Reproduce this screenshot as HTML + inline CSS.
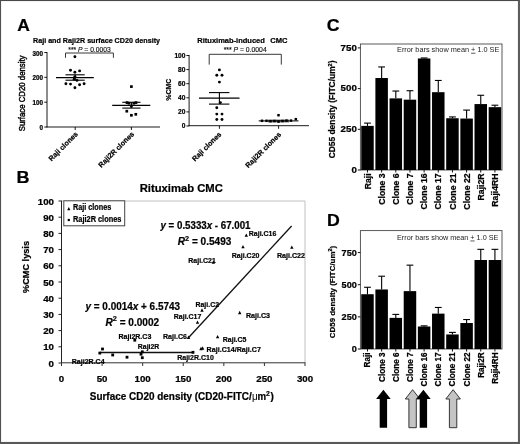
<!DOCTYPE html>
<html><head><meta charset="utf-8"><title>Figure</title>
<style>
html,body{margin:0;padding:0;background:#fff;}
#fig{position:relative;width:520px;height:444px;overflow:hidden;background:#fff;}
#fig svg{position:absolute;left:0;top:0;display:block;}
#frame{position:absolute;left:0;top:0;width:520px;height:444px;box-sizing:border-box;border-style:solid;border-color:#484848 #5c5c5c #585858 #505050;border-width:1px 2px 2px 1px;box-shadow:inset 0 0 1px rgba(60,60,60,0.55);pointer-events:none;}
text{font-family:"Liberation Sans",sans-serif;}
text[font-weight="700"]{stroke:#000;stroke-width:0.22px;}
</style></head><body>
<div id="fig">
<svg width="520" height="444" viewBox="0 0 520 444" font-family="Liberation Sans, sans-serif">
<text x="17.30" y="30.80" font-size="16.2" font-weight="700" textLength="12.60" lengthAdjust="spacingAndGlyphs">A</text>
<text x="16.60" y="182.60" font-size="16.8" font-weight="700" textLength="13.00" lengthAdjust="spacingAndGlyphs">B</text>
<text x="326.80" y="31.00" font-size="16" font-weight="700" textLength="12.80" lengthAdjust="spacingAndGlyphs">C</text>
<text x="327.00" y="225.80" font-size="16.6" font-weight="700" textLength="12.80" lengthAdjust="spacingAndGlyphs">D</text>
<text x="33.00" y="43.30" font-size="7.5" font-weight="700" textLength="127.00" lengthAdjust="spacingAndGlyphs">Raji and Raji2R surface CD20 density</text>
<text x="68.30" y="51.50" font-size="7.1" textLength="42.40" lengthAdjust="spacingAndGlyphs" fill="#111" stroke="#111" stroke-width="0.15">*** <tspan font-style="italic">P</tspan> = 0.0003</text>
<line x1="47.00" y1="52.00" x2="47.00" y2="127.40" stroke="#000" stroke-width="0.9"/>
<line x1="46.60" y1="127.00" x2="160.00" y2="127.00" stroke="#000" stroke-width="0.9"/>
<line x1="44.30" y1="52.50" x2="47.00" y2="52.50" stroke="#000" stroke-width="0.9"/>
<text x="43.00" y="55.50" font-size="6.3" font-weight="700" text-anchor="end">300</text>
<line x1="44.30" y1="77.30" x2="47.00" y2="77.30" stroke="#000" stroke-width="0.9"/>
<text x="43.00" y="80.30" font-size="6.3" font-weight="700" text-anchor="end">200</text>
<line x1="44.30" y1="102.20" x2="47.00" y2="102.20" stroke="#000" stroke-width="0.9"/>
<text x="43.00" y="105.20" font-size="6.3" font-weight="700" text-anchor="end">100</text>
<line x1="44.30" y1="127.00" x2="47.00" y2="127.00" stroke="#000" stroke-width="0.9"/>
<text x="43.00" y="130.00" font-size="6.3" font-weight="700" text-anchor="end">0</text>
<line x1="75.20" y1="127.00" x2="75.20" y2="130.00" stroke="#000" stroke-width="0.9"/>
<line x1="131.40" y1="127.00" x2="131.40" y2="130.00" stroke="#000" stroke-width="0.9"/>
<text x="25.00" y="93.40" font-size="8.2" text-anchor="middle" textLength="75.80" lengthAdjust="spacingAndGlyphs" transform="rotate(-90 25.00 93.40)" stroke="#000" stroke-width="0.4">Surface CD20 density</text>
<text x="78.40" y="134.60" font-size="7.2" font-weight="700" text-anchor="end" transform="rotate(-45 78.40 134.60)">Raji clones</text>
<text x="134.60" y="134.60" font-size="7.2" font-weight="700" text-anchor="end" transform="rotate(-45 134.60 134.60)">Raji2R clones</text>
<polyline points="65.5,57.8 65.5,53 113.4,53 113.4,57.8" fill="none" stroke="#222" stroke-width="0.9"/>
<circle cx="74.90" cy="56.80" r="1.45" fill="#000"/>
<circle cx="70.50" cy="70.20" r="1.45" fill="#000"/>
<circle cx="74.90" cy="72.30" r="1.45" fill="#000"/>
<circle cx="79.60" cy="70.90" r="1.45" fill="#000"/>
<circle cx="74.90" cy="76.60" r="1.45" fill="#000"/>
<circle cx="74.20" cy="79.30" r="1.45" fill="#000"/>
<circle cx="77.00" cy="80.40" r="1.45" fill="#000"/>
<circle cx="65.90" cy="83.70" r="1.45" fill="#000"/>
<circle cx="70.50" cy="84.10" r="1.45" fill="#000"/>
<circle cx="79.60" cy="84.80" r="1.45" fill="#000"/>
<circle cx="84.10" cy="83.70" r="1.45" fill="#000"/>
<circle cx="74.90" cy="87.70" r="1.45" fill="#000"/>
<line x1="56.00" y1="77.60" x2="93.80" y2="77.60" stroke="#000" stroke-width="1.1"/>
<line x1="65.50" y1="74.80" x2="84.70" y2="74.80" stroke="#000" stroke-width="1.1"/>
<line x1="65.50" y1="80.20" x2="84.70" y2="80.20" stroke="#000" stroke-width="1.1"/>
<line x1="75.10" y1="74.80" x2="75.10" y2="80.20" stroke="#000" stroke-width="1.1"/>
<rect x="130.05" y="85.25" width="2.7" height="2.7" fill="#000"/>
<rect x="127.65" y="101.85" width="2.7" height="2.7" fill="#000"/>
<rect x="132.45" y="101.85" width="2.7" height="2.7" fill="#000"/>
<rect x="130.05" y="104.85" width="2.7" height="2.7" fill="#000"/>
<rect x="125.45" y="109.85" width="2.7" height="2.7" fill="#000"/>
<rect x="130.05" y="113.95" width="2.7" height="2.7" fill="#000"/>
<rect x="134.45" y="112.95" width="2.7" height="2.7" fill="#000"/>
<rect x="125.65" y="101.25" width="2.7" height="2.7" fill="#000"/>
<rect x="134.65" y="101.25" width="2.7" height="2.7" fill="#000"/>
<line x1="112.20" y1="105.40" x2="150.30" y2="105.40" stroke="#000" stroke-width="1.1"/>
<line x1="122.30" y1="102.30" x2="140.50" y2="102.30" stroke="#000" stroke-width="1.1"/>
<line x1="122.30" y1="108.10" x2="140.50" y2="108.10" stroke="#000" stroke-width="1.1"/>
<line x1="131.40" y1="102.30" x2="131.40" y2="108.10" stroke="#000" stroke-width="1.1"/>
<text x="197.30" y="43.20" font-size="7.5" font-weight="700" textLength="67.60" lengthAdjust="spacingAndGlyphs">Rituximab-induced</text>
<text x="270.20" y="43.20" font-size="7.5" font-weight="700" textLength="17.20" lengthAdjust="spacingAndGlyphs">CMC</text>
<text x="223.70" y="51.60" font-size="7.1" textLength="43.00" lengthAdjust="spacingAndGlyphs" fill="#111" stroke="#111" stroke-width="0.15">*** <tspan font-style="italic">P</tspan> = 0.0004</text>
<line x1="189.10" y1="55.00" x2="189.10" y2="126.10" stroke="#000" stroke-width="0.9"/>
<line x1="188.60" y1="125.70" x2="309.00" y2="125.70" stroke="#000" stroke-width="0.9"/>
<line x1="186.40" y1="126.00" x2="189.10" y2="126.00" stroke="#000" stroke-width="0.9"/>
<text x="185.40" y="128.40" font-size="6.6" font-weight="700" text-anchor="end">0</text>
<line x1="186.40" y1="111.90" x2="189.10" y2="111.90" stroke="#000" stroke-width="0.9"/>
<text x="185.40" y="114.30" font-size="6.6" font-weight="700" text-anchor="end">20</text>
<line x1="186.40" y1="97.80" x2="189.10" y2="97.80" stroke="#000" stroke-width="0.9"/>
<text x="185.40" y="100.20" font-size="6.6" font-weight="700" text-anchor="end">40</text>
<line x1="186.40" y1="83.70" x2="189.10" y2="83.70" stroke="#000" stroke-width="0.9"/>
<text x="185.40" y="86.10" font-size="6.6" font-weight="700" text-anchor="end">60</text>
<line x1="186.40" y1="69.60" x2="189.10" y2="69.60" stroke="#000" stroke-width="0.9"/>
<text x="185.40" y="72.00" font-size="6.6" font-weight="700" text-anchor="end">80</text>
<line x1="186.40" y1="55.50" x2="189.10" y2="55.50" stroke="#000" stroke-width="0.9"/>
<text x="185.40" y="57.90" font-size="6.6" font-weight="700" text-anchor="end">100</text>
<line x1="219.40" y1="125.70" x2="219.40" y2="128.80" stroke="#000" stroke-width="0.9"/>
<line x1="278.60" y1="125.70" x2="278.60" y2="128.80" stroke="#000" stroke-width="0.9"/>
<text x="171.00" y="89.70" font-size="7" font-weight="700" text-anchor="middle" textLength="22.00" lengthAdjust="spacingAndGlyphs" transform="rotate(-90 171.00 89.70)">%CMC</text>
<text x="221.80" y="134.80" font-size="7.2" font-weight="700" text-anchor="end" transform="rotate(-45 221.80 134.80)">Raji clones</text>
<text x="281.60" y="135.00" font-size="7.2" font-weight="700" text-anchor="end" transform="rotate(-45 281.60 135.00)">Raji2R clones</text>
<polyline points="209.2,64.6 209.2,54.3 281.3,54.3 281.3,64.6" fill="none" stroke="#222" stroke-width="0.9"/>
<circle cx="219.40" cy="69.90" r="1.45" fill="#000"/>
<circle cx="216.80" cy="75.30" r="1.45" fill="#000"/>
<circle cx="222.00" cy="75.30" r="1.45" fill="#000"/>
<circle cx="219.40" cy="82.10" r="1.45" fill="#000"/>
<circle cx="220.40" cy="102.60" r="1.45" fill="#000"/>
<circle cx="216.80" cy="107.70" r="1.45" fill="#000"/>
<circle cx="216.80" cy="114.10" r="1.45" fill="#000"/>
<circle cx="222.00" cy="114.10" r="1.45" fill="#000"/>
<circle cx="216.80" cy="119.50" r="1.45" fill="#000"/>
<circle cx="222.00" cy="119.50" r="1.45" fill="#000"/>
<line x1="199.00" y1="98.10" x2="239.50" y2="98.10" stroke="#000" stroke-width="1.1"/>
<line x1="209.00" y1="92.60" x2="229.40" y2="92.60" stroke="#000" stroke-width="1.1"/>
<line x1="209.00" y1="104.10" x2="229.40" y2="104.10" stroke="#000" stroke-width="1.1"/>
<line x1="219.40" y1="92.60" x2="219.40" y2="104.10" stroke="#000" stroke-width="1.1"/>
<rect x="277.25" y="113.95" width="2.5" height="2.5" fill="#000"/>
<rect x="260.75" y="119.55" width="2.5" height="2.5" fill="#000"/>
<rect x="265.25" y="119.55" width="2.5" height="2.5" fill="#000"/>
<rect x="269.25" y="119.95" width="2.5" height="2.5" fill="#000"/>
<rect x="273.25" y="119.75" width="2.5" height="2.5" fill="#000"/>
<rect x="277.25" y="120.35" width="2.5" height="2.5" fill="#000"/>
<rect x="281.25" y="119.75" width="2.5" height="2.5" fill="#000"/>
<rect x="285.25" y="119.35" width="2.5" height="2.5" fill="#000"/>
<rect x="289.75" y="119.35" width="2.5" height="2.5" fill="#000"/>
<rect x="294.55" y="117.95" width="2.5" height="2.5" fill="#000"/>
<line x1="258.70" y1="120.90" x2="298.50" y2="120.90" stroke="#000" stroke-width="1.0"/>
<line x1="268.00" y1="120.20" x2="289.00" y2="120.20" stroke="#000" stroke-width="0.8"/>
<line x1="268.00" y1="121.80" x2="289.00" y2="121.80" stroke="#000" stroke-width="0.8"/>
<text x="139.70" y="192.30" font-size="11.2" font-weight="700" textLength="83.20" lengthAdjust="spacingAndGlyphs">Rituximab CMC</text>
<line x1="61.50" y1="201.00" x2="305.00" y2="201.00" stroke="#c0c0c0" stroke-width="1"/>
<line x1="305.00" y1="201.00" x2="305.00" y2="363.00" stroke="#c0c0c0" stroke-width="1"/>
<line x1="61.50" y1="200.60" x2="61.50" y2="363.40" stroke="#222" stroke-width="1"/>
<line x1="61.00" y1="362.80" x2="305.40" y2="362.80" stroke="#333" stroke-width="1"/>
<line x1="58.50" y1="363.00" x2="61.50" y2="363.00" stroke="#222" stroke-width="1"/>
<text x="54.00" y="366.50" font-size="8.6" font-weight="700" text-anchor="end" textLength="5.40" lengthAdjust="spacingAndGlyphs">0</text>
<line x1="58.50" y1="346.80" x2="61.50" y2="346.80" stroke="#222" stroke-width="1"/>
<text x="54.00" y="350.30" font-size="8.6" font-weight="700" text-anchor="end" textLength="10.80" lengthAdjust="spacingAndGlyphs">10</text>
<line x1="58.50" y1="330.60" x2="61.50" y2="330.60" stroke="#222" stroke-width="1"/>
<text x="54.00" y="334.10" font-size="8.6" font-weight="700" text-anchor="end" textLength="10.80" lengthAdjust="spacingAndGlyphs">20</text>
<line x1="58.50" y1="314.40" x2="61.50" y2="314.40" stroke="#222" stroke-width="1"/>
<text x="54.00" y="317.90" font-size="8.6" font-weight="700" text-anchor="end" textLength="10.80" lengthAdjust="spacingAndGlyphs">30</text>
<line x1="58.50" y1="298.20" x2="61.50" y2="298.20" stroke="#222" stroke-width="1"/>
<text x="54.00" y="301.70" font-size="8.6" font-weight="700" text-anchor="end" textLength="10.80" lengthAdjust="spacingAndGlyphs">40</text>
<line x1="58.50" y1="282.00" x2="61.50" y2="282.00" stroke="#222" stroke-width="1"/>
<text x="54.00" y="285.50" font-size="8.6" font-weight="700" text-anchor="end" textLength="10.80" lengthAdjust="spacingAndGlyphs">50</text>
<line x1="58.50" y1="265.80" x2="61.50" y2="265.80" stroke="#222" stroke-width="1"/>
<text x="54.00" y="269.30" font-size="8.6" font-weight="700" text-anchor="end" textLength="10.80" lengthAdjust="spacingAndGlyphs">60</text>
<line x1="58.50" y1="249.60" x2="61.50" y2="249.60" stroke="#222" stroke-width="1"/>
<text x="54.00" y="253.10" font-size="8.6" font-weight="700" text-anchor="end" textLength="10.80" lengthAdjust="spacingAndGlyphs">70</text>
<line x1="58.50" y1="233.40" x2="61.50" y2="233.40" stroke="#222" stroke-width="1"/>
<text x="54.00" y="236.90" font-size="8.6" font-weight="700" text-anchor="end" textLength="10.80" lengthAdjust="spacingAndGlyphs">80</text>
<line x1="58.50" y1="217.20" x2="61.50" y2="217.20" stroke="#222" stroke-width="1"/>
<text x="54.00" y="220.70" font-size="8.6" font-weight="700" text-anchor="end" textLength="10.80" lengthAdjust="spacingAndGlyphs">90</text>
<line x1="58.50" y1="201.00" x2="61.50" y2="201.00" stroke="#222" stroke-width="1"/>
<text x="54.00" y="204.50" font-size="8.6" font-weight="700" text-anchor="end" textLength="16.20" lengthAdjust="spacingAndGlyphs">100</text>
<line x1="61.50" y1="362.80" x2="61.50" y2="366.00" stroke="#333" stroke-width="1"/>
<text x="61.50" y="382.30" font-size="8.6" font-weight="700" text-anchor="middle" textLength="5.40" lengthAdjust="spacingAndGlyphs">0</text>
<line x1="102.09" y1="362.80" x2="102.09" y2="366.00" stroke="#333" stroke-width="1"/>
<text x="102.09" y="382.30" font-size="8.6" font-weight="700" text-anchor="middle" textLength="10.80" lengthAdjust="spacingAndGlyphs">50</text>
<line x1="142.67" y1="362.80" x2="142.67" y2="366.00" stroke="#333" stroke-width="1"/>
<text x="142.67" y="382.30" font-size="8.6" font-weight="700" text-anchor="middle" textLength="16.20" lengthAdjust="spacingAndGlyphs">100</text>
<line x1="183.25" y1="362.80" x2="183.25" y2="366.00" stroke="#333" stroke-width="1"/>
<text x="183.25" y="382.30" font-size="8.6" font-weight="700" text-anchor="middle" textLength="16.20" lengthAdjust="spacingAndGlyphs">150</text>
<line x1="223.84" y1="362.80" x2="223.84" y2="366.00" stroke="#333" stroke-width="1"/>
<text x="223.84" y="382.30" font-size="8.6" font-weight="700" text-anchor="middle" textLength="16.20" lengthAdjust="spacingAndGlyphs">200</text>
<line x1="264.42" y1="362.80" x2="264.42" y2="366.00" stroke="#333" stroke-width="1"/>
<text x="264.42" y="382.30" font-size="8.6" font-weight="700" text-anchor="middle" textLength="16.20" lengthAdjust="spacingAndGlyphs">250</text>
<line x1="305.01" y1="362.80" x2="305.01" y2="366.00" stroke="#333" stroke-width="1"/>
<text x="305.01" y="382.30" font-size="8.6" font-weight="700" text-anchor="middle" textLength="16.20" lengthAdjust="spacingAndGlyphs">300</text>
<text x="28.80" y="267.00" font-size="9.1" font-weight="700" text-anchor="middle" textLength="52.00" lengthAdjust="spacingAndGlyphs" transform="rotate(-90 28.80 267.00)">%CMC lysis</text>
<text x="89.80" y="400.20" font-size="10" font-weight="700" textLength="161.90" lengthAdjust="spacingAndGlyphs">Surface CD20 density (CD20-FITC/</text>
<text x="251.90" y="400.20" font-size="10">μ</text>
<text x="257.40" y="400.20" font-size="10" font-weight="700" textLength="8.60" lengthAdjust="spacingAndGlyphs">m</text>
<text x="266.00" y="396.40" font-size="6.8" font-weight="700">2</text>
<text x="270.50" y="400.20" font-size="10" font-weight="700">)</text>
<rect x="63.80" y="200.80" width="60.90" height="25.00" fill="#fff" stroke="#444" stroke-width="1"/>
<polygon points="68.80,206.98 67.20,210.18 70.40,210.18" fill="#000"/>
<text x="73.00" y="210.20" font-size="8.2" font-weight="700" textLength="38.30" lengthAdjust="spacingAndGlyphs">Raji clones</text>
<rect x="67.70" y="218.90" width="2.2" height="2.2" fill="#000"/>
<text x="73.00" y="221.90" font-size="8.2" font-weight="700" textLength="48.40" lengthAdjust="spacingAndGlyphs">Raji2R clones</text>
<text x="160.50" y="229.00" font-size="10.8" font-weight="700" textLength="90.00" lengthAdjust="spacingAndGlyphs"><tspan font-style="italic">y</tspan> = 0.5333<tspan font-style="italic">x</tspan> - 67.001</text>
<text x="177.80" y="245.00" font-size="11" font-weight="700" textLength="53.60" lengthAdjust="spacingAndGlyphs"><tspan font-style="italic">R</tspan><tspan font-size="8" dy="-4.5">2</tspan><tspan dy="4.5"> = 0.5493</tspan></text>
<text x="85.50" y="309.50" font-size="11" font-weight="700" textLength="94.50" lengthAdjust="spacingAndGlyphs"><tspan font-style="italic">y</tspan> = 0.0014<tspan font-style="italic">x</tspan> + 6.5743</text>
<text x="105.50" y="325.50" font-size="11" font-weight="700" textLength="53.60" lengthAdjust="spacingAndGlyphs"><tspan font-style="italic">R</tspan><tspan font-size="8" dy="-4.5">2</tspan><tspan dy="4.5"> = 0.0002</tspan></text>
<line x1="188.20" y1="338.00" x2="291.60" y2="226.00" stroke="#111" stroke-width="1.3"/>
<line x1="99.80" y1="352.50" x2="194.00" y2="352.50" stroke="#111" stroke-width="1.3"/>
<polygon points="246.30,233.46 244.60,236.86 248.00,236.86" fill="#000"/>
<text x="248.80" y="235.70" font-size="7.6" font-weight="700" textLength="27.50" lengthAdjust="spacingAndGlyphs">Raji.C16</text>
<polygon points="243.00,244.96 241.30,248.36 244.70,248.36" fill="#000"/>
<text x="231.80" y="257.70" font-size="7.6" font-weight="700" textLength="27.70" lengthAdjust="spacingAndGlyphs">Raji.C20</text>
<polygon points="291.80,245.46 290.10,248.86 293.50,248.86" fill="#000"/>
<text x="277.00" y="257.70" font-size="7.6" font-weight="700" textLength="28.00" lengthAdjust="spacingAndGlyphs">Raji.C22</text>
<polygon points="213.30,260.46 211.60,263.86 215.00,263.86" fill="#000"/>
<text x="188.30" y="262.70" font-size="7.6" font-weight="700" textLength="27.50" lengthAdjust="spacingAndGlyphs">Raji.C21</text>
<polygon points="202.00,308.36 200.30,311.76 203.70,311.76" fill="#000"/>
<text x="195.50" y="307.20" font-size="7.6" font-weight="700" textLength="23.50" lengthAdjust="spacingAndGlyphs">Raji.C2</text>
<polygon points="197.50,320.46 195.80,323.86 199.20,323.86" fill="#000"/>
<text x="173.80" y="318.50" font-size="7.6" font-weight="700" textLength="27.50" lengthAdjust="spacingAndGlyphs">Raji.C17</text>
<polygon points="188.50,335.56 186.80,338.96 190.20,338.96" fill="#000"/>
<text x="163.00" y="339.00" font-size="7.6" font-weight="700" textLength="24.00" lengthAdjust="spacingAndGlyphs">Raji.C6</text>
<polygon points="239.70,310.76 238.00,314.16 241.40,314.16" fill="#000"/>
<text x="246.00" y="317.90" font-size="7.6" font-weight="700" textLength="24.00" lengthAdjust="spacingAndGlyphs">Raji.C3</text>
<polygon points="217.60,334.96 215.90,338.36 219.30,338.36" fill="#000"/>
<text x="222.80" y="342.30" font-size="7.6" font-weight="700" textLength="23.60" lengthAdjust="spacingAndGlyphs">Raji.C5</text>
<polygon points="201.00,346.76 199.30,350.16 202.70,350.16" fill="#000"/>
<polygon points="202.60,346.36 200.90,349.76 204.30,349.76" fill="#000"/>
<text x="206.60" y="352.40" font-size="7.6" font-weight="700" textLength="54.30" lengthAdjust="spacingAndGlyphs">Raji.C14/Raji.C7</text>
<rect x="98.40" y="351.70" width="2.8" height="2.8" fill="#000"/>
<rect x="101.10" y="347.60" width="2.8" height="2.8" fill="#000"/>
<rect x="111.30" y="353.60" width="2.8" height="2.8" fill="#000"/>
<rect x="125.60" y="355.80" width="2.8" height="2.8" fill="#000"/>
<rect x="133.40" y="338.80" width="2.8" height="2.8" fill="#000"/>
<rect x="139.60" y="352.80" width="2.8" height="2.8" fill="#000"/>
<rect x="140.90" y="350.40" width="2.8" height="2.8" fill="#000"/>
<rect x="140.90" y="356.30" width="2.8" height="2.8" fill="#000"/>
<rect x="191.60" y="350.90" width="2.8" height="2.8" fill="#000"/>
<text x="71.80" y="363.90" font-size="7.6" font-weight="700" textLength="32.80" lengthAdjust="spacingAndGlyphs">Raji2R.C4</text>
<text x="118.50" y="339.30" font-size="7.6" font-weight="700" textLength="32.80" lengthAdjust="spacingAndGlyphs">Raji2R.C3</text>
<text x="137.80" y="349.10" font-size="7.6" font-weight="700" textLength="21.50" lengthAdjust="spacingAndGlyphs">Raji2R</text>
<text x="177.20" y="360.20" font-size="7.6" font-weight="700" textLength="36.60" lengthAdjust="spacingAndGlyphs">Raji2R.C10</text>
<rect x="360.40" y="44.00" width="141.60" height="126.00" fill="none" stroke="#484848" stroke-width="0.9"/>
<line x1="357.80" y1="170.00" x2="360.40" y2="170.00" stroke="#111" stroke-width="1"/>
<text x="356.80" y="172.70" font-size="8.7" font-weight="700" text-anchor="end" textLength="5.40" lengthAdjust="spacingAndGlyphs">0</text>
<line x1="357.80" y1="129.30" x2="360.40" y2="129.30" stroke="#111" stroke-width="1"/>
<text x="356.80" y="132.00" font-size="8.7" font-weight="700" text-anchor="end" textLength="16.20" lengthAdjust="spacingAndGlyphs">250</text>
<line x1="357.80" y1="88.60" x2="360.40" y2="88.60" stroke="#111" stroke-width="1"/>
<text x="356.80" y="91.30" font-size="8.7" font-weight="700" text-anchor="end" textLength="16.20" lengthAdjust="spacingAndGlyphs">500</text>
<line x1="357.80" y1="47.90" x2="360.40" y2="47.90" stroke="#111" stroke-width="1"/>
<text x="356.80" y="50.60" font-size="8.7" font-weight="700" text-anchor="end" textLength="16.20" lengthAdjust="spacingAndGlyphs">750</text>
<text x="499.40" y="51.80" font-size="7.4" text-anchor="end" textLength="102.40" lengthAdjust="spacingAndGlyphs" fill="#222">Error bars show mean <tspan text-decoration="underline">+</tspan> 1.0 SE</text>
<rect x="361.23" y="125.88" width="12.50" height="44.12" fill="#000"/>
<line x1="367.48" y1="123.11" x2="367.48" y2="125.88" stroke="#000" stroke-width="1.1"/>
<line x1="364.08" y1="123.11" x2="370.88" y2="123.11" stroke="#000" stroke-width="1.1"/>
<line x1="367.48" y1="170.00" x2="367.48" y2="172.50" stroke="#111" stroke-width="1"/>
<text x="370.58" y="173.40" font-size="8.7" font-weight="700" text-anchor="end" transform="rotate(-90 370.58 173.40)">Raji</text>
<rect x="375.39" y="78.02" width="12.50" height="91.98" fill="#000"/>
<line x1="381.64" y1="66.95" x2="381.64" y2="78.02" stroke="#000" stroke-width="1.1"/>
<line x1="378.24" y1="66.95" x2="385.04" y2="66.95" stroke="#000" stroke-width="1.1"/>
<line x1="381.64" y1="170.00" x2="381.64" y2="172.50" stroke="#111" stroke-width="1"/>
<text x="384.74" y="173.40" font-size="8.7" font-weight="700" text-anchor="end" transform="rotate(-90 384.74 173.40)">Clone 3</text>
<rect x="389.55" y="98.37" width="12.50" height="71.63" fill="#000"/>
<line x1="395.80" y1="91.04" x2="395.80" y2="98.37" stroke="#000" stroke-width="1.1"/>
<line x1="392.40" y1="91.04" x2="399.20" y2="91.04" stroke="#000" stroke-width="1.1"/>
<line x1="395.80" y1="170.00" x2="395.80" y2="172.50" stroke="#111" stroke-width="1"/>
<text x="398.90" y="173.40" font-size="8.7" font-weight="700" text-anchor="end" transform="rotate(-90 398.90 173.40)">Clone 6</text>
<rect x="403.71" y="99.67" width="12.50" height="70.33" fill="#000"/>
<line x1="409.96" y1="90.72" x2="409.96" y2="99.67" stroke="#000" stroke-width="1.1"/>
<line x1="406.56" y1="90.72" x2="413.36" y2="90.72" stroke="#000" stroke-width="1.1"/>
<line x1="409.96" y1="170.00" x2="409.96" y2="172.50" stroke="#111" stroke-width="1"/>
<text x="413.06" y="173.40" font-size="8.7" font-weight="700" text-anchor="end" transform="rotate(-90 413.06 173.40)">Clone 7</text>
<rect x="417.87" y="58.48" width="12.50" height="111.52" fill="#000"/>
<line x1="424.12" y1="57.99" x2="424.12" y2="58.48" stroke="#000" stroke-width="1.1"/>
<line x1="420.72" y1="57.99" x2="427.52" y2="57.99" stroke="#000" stroke-width="1.1"/>
<line x1="424.12" y1="170.00" x2="424.12" y2="172.50" stroke="#111" stroke-width="1"/>
<text x="427.22" y="173.40" font-size="8.7" font-weight="700" text-anchor="end" transform="rotate(-90 427.22 173.40)">Clone 16</text>
<rect x="432.03" y="92.18" width="12.50" height="77.82" fill="#000"/>
<line x1="438.28" y1="80.46" x2="438.28" y2="92.18" stroke="#000" stroke-width="1.1"/>
<line x1="434.88" y1="80.46" x2="441.68" y2="80.46" stroke="#000" stroke-width="1.1"/>
<line x1="438.28" y1="170.00" x2="438.28" y2="172.50" stroke="#111" stroke-width="1"/>
<text x="441.38" y="173.40" font-size="8.7" font-weight="700" text-anchor="end" transform="rotate(-90 441.38 173.40)">Clone 17</text>
<rect x="446.19" y="118.23" width="12.50" height="51.77" fill="#000"/>
<line x1="452.44" y1="116.93" x2="452.44" y2="118.23" stroke="#000" stroke-width="1.1"/>
<line x1="449.04" y1="116.93" x2="455.84" y2="116.93" stroke="#000" stroke-width="1.1"/>
<line x1="452.44" y1="170.00" x2="452.44" y2="172.50" stroke="#111" stroke-width="1"/>
<text x="455.54" y="173.40" font-size="8.7" font-weight="700" text-anchor="end" transform="rotate(-90 455.54 173.40)">Clone 21</text>
<rect x="460.35" y="118.56" width="12.50" height="51.44" fill="#000"/>
<line x1="466.60" y1="110.09" x2="466.60" y2="118.56" stroke="#000" stroke-width="1.1"/>
<line x1="463.20" y1="110.09" x2="470.00" y2="110.09" stroke="#000" stroke-width="1.1"/>
<line x1="466.60" y1="170.00" x2="466.60" y2="172.50" stroke="#111" stroke-width="1"/>
<text x="469.70" y="173.40" font-size="8.7" font-weight="700" text-anchor="end" transform="rotate(-90 469.70 173.40)">Clone 22</text>
<rect x="474.51" y="104.07" width="12.50" height="65.93" fill="#000"/>
<line x1="480.76" y1="95.27" x2="480.76" y2="104.07" stroke="#000" stroke-width="1.1"/>
<line x1="477.36" y1="95.27" x2="484.16" y2="95.27" stroke="#000" stroke-width="1.1"/>
<line x1="480.76" y1="170.00" x2="480.76" y2="172.50" stroke="#111" stroke-width="1"/>
<text x="483.86" y="173.40" font-size="8.7" font-weight="700" text-anchor="end" transform="rotate(-90 483.86 173.40)">Raji2R</text>
<rect x="488.67" y="107.16" width="12.50" height="62.84" fill="#000"/>
<line x1="494.92" y1="105.21" x2="494.92" y2="107.16" stroke="#000" stroke-width="1.1"/>
<line x1="491.52" y1="105.21" x2="498.32" y2="105.21" stroke="#000" stroke-width="1.1"/>
<line x1="494.92" y1="170.00" x2="494.92" y2="172.50" stroke="#111" stroke-width="1"/>
<text x="498.02" y="173.40" font-size="8.7" font-weight="700" text-anchor="end" transform="rotate(-90 498.02 173.40)">Raji4RH</text>
<text x="334.60" y="109.40" font-size="8.4" font-weight="700" text-anchor="middle" textLength="97.80" lengthAdjust="spacingAndGlyphs" transform="rotate(-90 334.60 109.40)">CD55 density (FITC/um<tspan font-size="5.5" dy="-3">2</tspan><tspan dy="3">)</tspan></text>
<rect x="360.40" y="230.60" width="141.60" height="118.40" fill="none" stroke="#484848" stroke-width="0.9"/>
<line x1="357.80" y1="349.00" x2="360.40" y2="349.00" stroke="#111" stroke-width="1"/>
<text x="356.80" y="352.00" font-size="8.18" font-weight="700" text-anchor="end" textLength="5.08" lengthAdjust="spacingAndGlyphs">0</text>
<line x1="357.80" y1="316.85" x2="360.40" y2="316.85" stroke="#111" stroke-width="1"/>
<text x="356.80" y="319.85" font-size="8.18" font-weight="700" text-anchor="end" textLength="15.23" lengthAdjust="spacingAndGlyphs">250</text>
<line x1="357.80" y1="284.70" x2="360.40" y2="284.70" stroke="#111" stroke-width="1"/>
<text x="356.80" y="287.70" font-size="8.18" font-weight="700" text-anchor="end" textLength="15.23" lengthAdjust="spacingAndGlyphs">500</text>
<line x1="357.80" y1="252.55" x2="360.40" y2="252.55" stroke="#111" stroke-width="1"/>
<text x="356.80" y="255.55" font-size="8.18" font-weight="700" text-anchor="end" textLength="15.23" lengthAdjust="spacingAndGlyphs">750</text>
<text x="498.40" y="239.60" font-size="7.4" text-anchor="end" textLength="101.40" lengthAdjust="spacingAndGlyphs" fill="#222">Error bars show mean <tspan text-decoration="underline">+</tspan> 1.0 SE</text>
<rect x="361.23" y="294.22" width="12.50" height="54.78" fill="#000"/>
<line x1="367.48" y1="287.27" x2="367.48" y2="294.22" stroke="#000" stroke-width="1.1"/>
<line x1="364.08" y1="287.27" x2="370.88" y2="287.27" stroke="#000" stroke-width="1.1"/>
<line x1="367.48" y1="349.00" x2="367.48" y2="351.50" stroke="#111" stroke-width="1"/>
<text x="370.39" y="352.40" font-size="8.18" font-weight="700" text-anchor="end" transform="rotate(-90 370.39 352.40)">Raji</text>
<rect x="375.39" y="289.46" width="12.50" height="59.54" fill="#000"/>
<line x1="381.64" y1="276.21" x2="381.64" y2="289.46" stroke="#000" stroke-width="1.1"/>
<line x1="378.24" y1="276.21" x2="385.04" y2="276.21" stroke="#000" stroke-width="1.1"/>
<line x1="381.64" y1="349.00" x2="381.64" y2="351.50" stroke="#111" stroke-width="1"/>
<text x="384.55" y="352.40" font-size="8.18" font-weight="700" text-anchor="end" transform="rotate(-90 384.55 352.40)">Clone 3</text>
<rect x="389.55" y="317.88" width="12.50" height="31.12" fill="#000"/>
<line x1="395.80" y1="314.41" x2="395.80" y2="317.88" stroke="#000" stroke-width="1.1"/>
<line x1="392.40" y1="314.41" x2="399.20" y2="314.41" stroke="#000" stroke-width="1.1"/>
<line x1="395.80" y1="349.00" x2="395.80" y2="351.50" stroke="#111" stroke-width="1"/>
<text x="398.71" y="352.40" font-size="8.18" font-weight="700" text-anchor="end" transform="rotate(-90 398.71 352.40)">Clone 6</text>
<rect x="403.71" y="291.13" width="12.50" height="57.87" fill="#000"/>
<line x1="409.96" y1="265.15" x2="409.96" y2="291.13" stroke="#000" stroke-width="1.1"/>
<line x1="406.56" y1="265.15" x2="413.36" y2="265.15" stroke="#000" stroke-width="1.1"/>
<line x1="409.96" y1="349.00" x2="409.96" y2="351.50" stroke="#111" stroke-width="1"/>
<text x="412.87" y="352.40" font-size="8.18" font-weight="700" text-anchor="end" transform="rotate(-90 412.87 352.40)">Clone 7</text>
<rect x="417.87" y="326.50" width="12.50" height="22.50" fill="#000"/>
<line x1="424.12" y1="325.85" x2="424.12" y2="326.50" stroke="#000" stroke-width="1.1"/>
<line x1="420.72" y1="325.85" x2="427.52" y2="325.85" stroke="#000" stroke-width="1.1"/>
<line x1="424.12" y1="349.00" x2="424.12" y2="351.50" stroke="#111" stroke-width="1"/>
<text x="427.03" y="352.40" font-size="8.18" font-weight="700" text-anchor="end" transform="rotate(-90 427.03 352.40)">Clone 16</text>
<rect x="432.03" y="313.63" width="12.50" height="35.37" fill="#000"/>
<line x1="438.28" y1="307.46" x2="438.28" y2="313.63" stroke="#000" stroke-width="1.1"/>
<line x1="434.88" y1="307.46" x2="441.68" y2="307.46" stroke="#000" stroke-width="1.1"/>
<line x1="438.28" y1="349.00" x2="438.28" y2="351.50" stroke="#111" stroke-width="1"/>
<text x="441.19" y="352.40" font-size="8.18" font-weight="700" text-anchor="end" transform="rotate(-90 441.19 352.40)">Clone 17</text>
<rect x="446.19" y="334.47" width="12.50" height="14.53" fill="#000"/>
<line x1="452.44" y1="332.41" x2="452.44" y2="334.47" stroke="#000" stroke-width="1.1"/>
<line x1="449.04" y1="332.41" x2="455.84" y2="332.41" stroke="#000" stroke-width="1.1"/>
<line x1="452.44" y1="349.00" x2="452.44" y2="351.50" stroke="#111" stroke-width="1"/>
<text x="455.35" y="352.40" font-size="8.18" font-weight="700" text-anchor="end" transform="rotate(-90 455.35 352.40)">Clone 21</text>
<rect x="460.35" y="323.02" width="12.50" height="25.98" fill="#000"/>
<line x1="466.60" y1="319.55" x2="466.60" y2="323.02" stroke="#000" stroke-width="1.1"/>
<line x1="463.20" y1="319.55" x2="470.00" y2="319.55" stroke="#000" stroke-width="1.1"/>
<line x1="466.60" y1="349.00" x2="466.60" y2="351.50" stroke="#111" stroke-width="1"/>
<text x="469.51" y="352.40" font-size="8.18" font-weight="700" text-anchor="end" transform="rotate(-90 469.51 352.40)">Clone 22</text>
<rect x="474.51" y="260.01" width="12.50" height="88.99" fill="#000"/>
<line x1="480.76" y1="249.34" x2="480.76" y2="260.01" stroke="#000" stroke-width="1.1"/>
<line x1="477.36" y1="249.34" x2="484.16" y2="249.34" stroke="#000" stroke-width="1.1"/>
<line x1="480.76" y1="349.00" x2="480.76" y2="351.50" stroke="#111" stroke-width="1"/>
<text x="483.67" y="352.40" font-size="8.18" font-weight="700" text-anchor="end" transform="rotate(-90 483.67 352.40)">Raji2R</text>
<rect x="488.67" y="260.01" width="12.50" height="88.99" fill="#000"/>
<line x1="494.92" y1="249.34" x2="494.92" y2="260.01" stroke="#000" stroke-width="1.1"/>
<line x1="491.52" y1="249.34" x2="498.32" y2="249.34" stroke="#000" stroke-width="1.1"/>
<line x1="494.92" y1="349.00" x2="494.92" y2="351.50" stroke="#111" stroke-width="1"/>
<text x="497.83" y="352.40" font-size="8.18" font-weight="700" text-anchor="end" transform="rotate(-90 497.83 352.40)">Raji4RH</text>
<text x="334.60" y="292.00" font-size="7.9" font-weight="700" text-anchor="middle" textLength="92.40" lengthAdjust="spacingAndGlyphs" transform="rotate(-90 334.60 292.00)">CD59 density (FITC/um<tspan font-size="5.5" dy="-3">2</tspan><tspan dy="3">)</tspan></text>
<polygon points="383.4,389.7 390.7,399 387.09999999999997,399 387.09999999999997,427.7 379.7,427.7 379.7,399 376.09999999999997,399" fill="#000"/>
<polygon points="412.6,389.7 419.90000000000003,399 416.3,399 416.3,427.7 408.90000000000003,427.7 408.90000000000003,399 405.3,399" fill="#c4c4c4" stroke="#222" stroke-width="0.9"/>
<polygon points="423.4,389.7 430.7,399 427.09999999999997,399 427.09999999999997,427.7 419.7,427.7 419.7,399 416.09999999999997,399" fill="#000"/>
<polygon points="453.1,389.7 460.40000000000003,399 456.8,399 456.8,427.7 449.40000000000003,427.7 449.40000000000003,399 445.8,399" fill="#c4c4c4" stroke="#222" stroke-width="0.9"/>
</svg>
<div id="frame"></div>
</div>
</body></html>
